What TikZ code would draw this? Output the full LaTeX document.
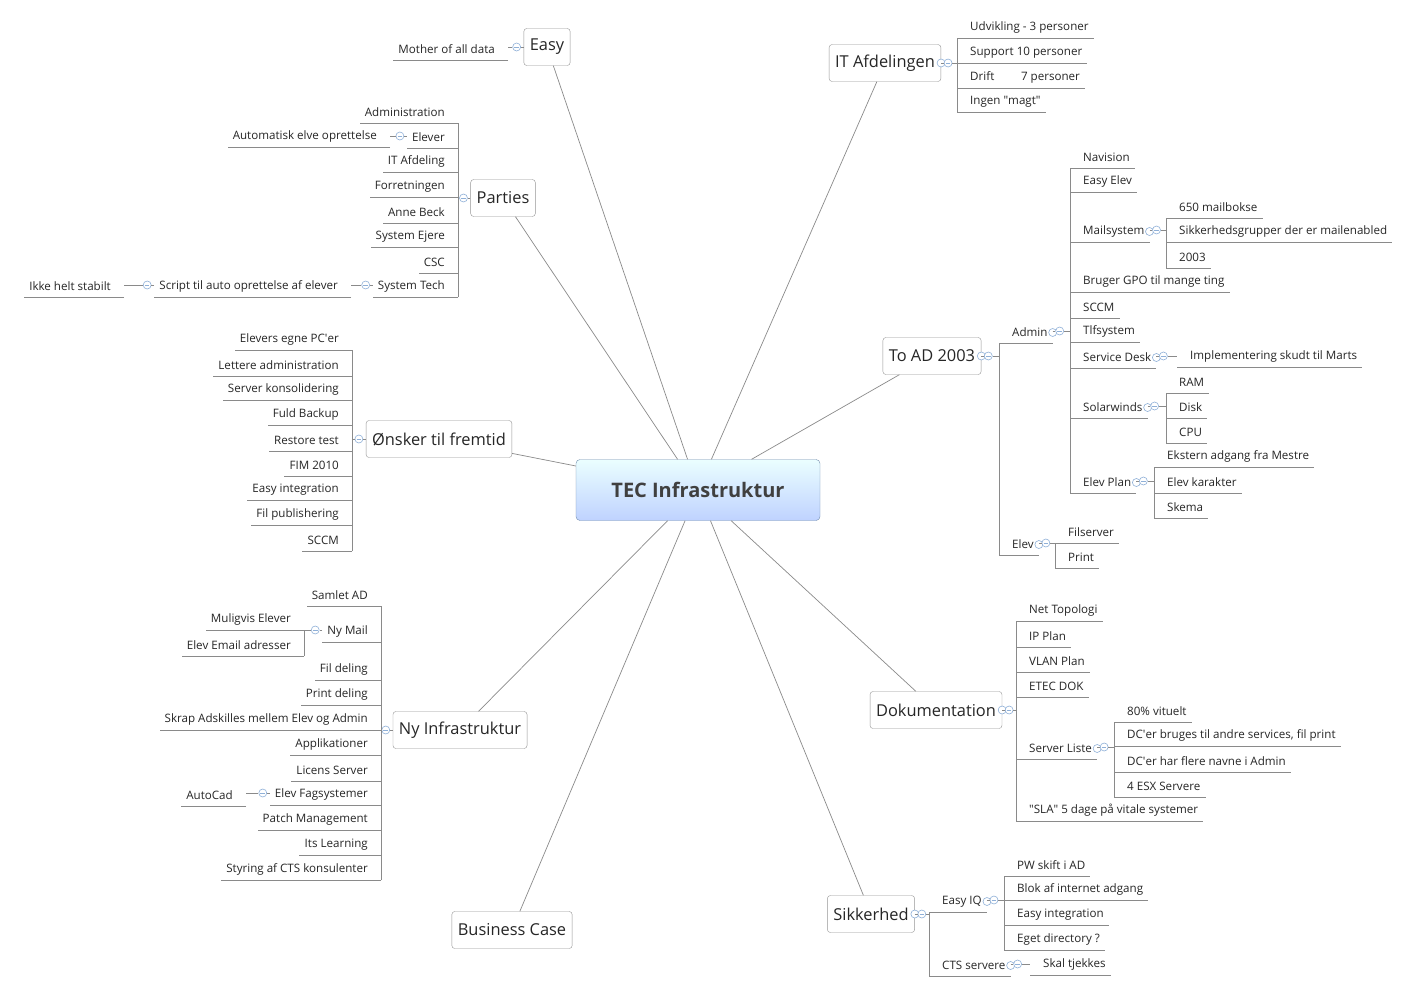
\documentclass[tikz,border=0pt]{standalone}
\usepackage{fontspec}
\setmainfont{Open Sans}
\newfontfamily\rawf{Open Sans}
\begin{document}
\begin{tikzpicture}[x=1pt,y=-1pt]
\definecolor{lc}{HTML}{8A8A8A}
\definecolor{cc}{HTML}{8FB0D8}
\tikzset{
 ln/.style={draw=lc,line width=0.7pt},
 lf/.style={font=\fontsize{11.6}{13}\selectfont,text=black!85,minimum height=24,inner xsep=5,inner ysep=0},
 topic/.style={draw=lc!90,fill=white,rounded corners=3,font=\fontsize{16.4}{19}\selectfont,text=black!85,minimum height=37,inner xsep=6},
 cir/.style={circle,draw=cc,fill=white,minimum size=8,inner sep=0,line width=0.6pt}
}
\newcommand\qq{{\rawf"}}
\newcommand\ap{{\rawf'}}
\newcommand\RL[4]{\node[lf,anchor=west] (#1) at (#2+8,#3+1.5) {#4};\draw[ln] (#2,#3+12) -- (#1.south east |- #2,#3+12);}
\newcommand\LL[4]{\node[lf,anchor=east] (#1) at (#2-8,#3+1.5) {#4};\draw[ln] (#2,#3+12) -- (#1.south west |- #2,#3+12);}
\newcommand\SR[3]{\node[cir] (#1c) at (#1.east -| {#1.east}) {};\path (#1c) ++(7,0) coordinate (#1cc);\node[cir] (#1c) at ([xshift=7pt]#1.east |- #2,#3) {};\draw[cc,line width=0.8pt] ([xshift=-2.3pt]#1c.center)--([xshift=2.3pt]#1c.center);\draw[ln] (#1.east |- #1c) -- (#1c.west);\draw[ln] (#1c.east) -- (#2,#3);}
\newcommand\SL[3]{\node[cir] (#1c) at ([xshift=-7pt]#1.west |- #2,#3) {};\draw[cc,line width=0.8pt] ([xshift=-2.3pt]#1c.center)--([xshift=2.3pt]#1c.center);\draw[ln] (#1.west |- #1c) -- (#1c.east);\draw[ln] (#1c.west) -- (#2,#3);}
\newcommand\BR[3]{\draw[ln] (#1,#2+12) -- (#1,#3+12);}
\useasboundingbox[fill=white] (0,0) rectangle (1427,991);

% central
\node[draw=cc!80!black,rounded corners=4,top color=blue!3!cyan!8,bottom color=cyan!30!blue!25,minimum width=244,minimum height=61,font=\fontsize{20}{24}\selectfont\bfseries,text=black!75] (tec) at (698,490) {TEC Infrastruktur};

% main topics
\node[topic] (easy) at (547,47) {Easy};
\node[topic] (parties) at (503,198) {Parties};
\node[topic] (onsker) at (439,439) {Ønsker til fremtid};
\node[topic] (nyinf) at (460,730) {Ny Infrastruktur};
\node[topic] (bcase) at (512,930) {Business Case};
\node[topic] (itaf) at (885,63) {IT Afdelingen};
\node[topic] (toad) at (932,356) {To AD 2003};
\node[topic] (dok) at (936,710) {Dokumentation};
\node[topic] (sik) at (871,914) {Sikkerhed};
\foreach \t in {easy,parties,onsker,nyinf,bcase,itaf,toad,dok,sik} \draw[ln] (tec) -- (\t);

% Easy
\SL{easy}{508}{47}
\LL{mother}{508}{48}{Mother of all data}

% IT Afdelingen
\SR{itaf}{957}{63}
\RL{it1}{957}{26}{Udvikling - 3 personer}
\RL{it2}{957}{51}{Support 10 personer}
\RL{it3}{957}{76}{Drift\hspace{2.3em}7 personer}
\RL{it4}{957}{100}{Ingen \qq magt\qq}
\BR{957}{26}{100}

% To AD 2003
\SR{toad}{999}{356}
\RL{admin}{999}{331}{Admin}
\RL{elev}{999}{543}{Elev}
\BR{999}{331}{543}
\SR{admin}{1070}{331}
\RL{nav}{1070}{156}{Navision}
\RL{easyelev}{1070}{180}{Easy Elev}
\RL{mail}{1070}{230}{Mailsystem}
\RL{gpo}{1070}{280}{Bruger GPO til mange ting}
\RL{sccm}{1070}{306}{SCCM}
\RL{tlf}{1070}{330}{Tlfsystem}
\RL{sdesk}{1070}{356}{Service Desk}
\RL{solar}{1070}{406}{Solarwinds}
\RL{eplan}{1070}{481}{Elev Plan}
\BR{1070}{156}{481}
\SR{mail}{1166}{230}
\RL{m1}{1166}{206}{650 mailbokse}
\RL{m2}{1166}{230}{Sikkerhedsgrupper der er mailenabled}
\RL{m3}{1166}{256}{2003}
\BR{1166}{206}{256}
\SR{sdesk}{1177}{356}
\RL{impl}{1177}{355}{Implementering skudt til Marts}
\SR{solar}{1166}{406}
\RL{s1}{1166}{381}{RAM}
\RL{s2}{1166}{406}{Disk}
\RL{s3}{1166}{431}{CPU}
\BR{1166}{381}{431}
\SR{eplan}{1154}{481}
\RL{e1}{1154}{455}{Ekstern adgang fra Mestre}
\RL{e2}{1154}{481}{Elev karakter}
\RL{e3}{1154}{506}{Skema}
\BR{1154}{455}{506}
\SR{elev}{1055}{543}
\RL{f1}{1055}{531}{Filserver}
\RL{f2}{1055}{556}{Print}
\BR{1055}{531}{556}

% Dokumentation
\SR{dok}{1016}{710}
\RL{d1}{1016}{609}{Net Topologi}
\RL{d2}{1016}{635}{IP Plan}
\RL{d3}{1016}{660}{VLAN Plan}
\RL{d4}{1016}{685}{ETEC DOK}
\RL{srvl}{1016}{747}{Server Liste}
\RL{d6}{1016}{809}{\qq SLA\qq{} 5 dage på vitale systemer}
\BR{1016}{609}{809}
\SR{srvl}{1114}{747}
\RL{v1}{1114}{710}{80\% vituelt}
\RL{v2}{1114}{734}{DC\ap er bruges til andre services, fil print}
\RL{v3}{1114}{760}{DC\ap er har flere navne i Admin}
\RL{v4}{1114}{785}{4 ESX Servere}
\BR{1114}{710}{785}

% Sikkerhed
\SR{sik}{929}{914}
\RL{eiq}{929}{900}{Easy IQ}
\RL{cts}{929}{964}{CTS servere}
\BR{929}{900}{964}
\SR{eiq}{1004}{900}
\RL{q1}{1004}{864}{PW skift i AD}
\RL{q2}{1004}{888}{Blok af internet adgang}
\RL{q3}{1004}{913}{Easy integration}
\RL{q4}{1004}{938}{Eget directory ?}
\BR{1004}{864}{938}
\SR{cts}{1030}{964}
\RL{skal}{1030}{963}{Skal tjekkes}

% Parties
\SL{parties}{458}{198}
\LL{p1}{458}{111}{Administration}
\LL{pel}{458}{136}{Elever}
\LL{p3}{458}{160}{IT Afdeling}
\LL{p4}{458}{185}{Forretningen}
\LL{p5}{458}{211}{Anne Beck}
\LL{p6}{458}{235}{System Ejere}
\LL{p7}{458}{261}{CSC}
\LL{pst}{458}{285}{System Tech}
\BR{458}{111}{285}
\SL{pel}{390}{136}
\LL{auto}{390}{135}{Automatisk elve oprettelse}
\SL{pst}{351}{285}
\LL{script}{351}{285}{Script til auto oprettelse af elever}
\SL{script}{124}{285}
\LL{ikke}{124}{285}{Ikke helt stabilt}

% Onsker
\SL{onsker}{352}{439}
\LL{o1}{352}{338}{Elevers egne PC\ap er}
\LL{o2}{352}{364}{Lettere administration}
\LL{o3}{352}{388}{Server konsolidering}
\LL{o4}{352}{413}{Fuld Backup}
\LL{o5}{352}{439}{Restore test}
\LL{o6}{352}{464}{FIM 2010}
\LL{o7}{352}{488}{Easy integration}
\LL{o8}{352}{513}{Fil publishering}
\LL{o9}{352}{539}{SCCM}
\BR{352}{338}{539}

% Ny Infrastruktur
\SL{nyinf}{381}{730}
\LL{n1}{381}{594}{Samlet AD}
\LL{nymail}{381}{630}{Ny Mail}
\LL{n3}{381}{668}{Fil deling}
\LL{n4}{381}{693}{Print deling}
\LL{n5}{381}{718}{Skrap Adskilles mellem Elev og Admin}
\LL{n6}{381}{743}{Applikationer}
\LL{n7}{381}{769}{Licens Server}
\LL{fag}{381}{793}{Elev Fagsystemer}
\LL{n9}{381}{818}{Patch Management}
\LL{n10}{381}{843}{Its Learning}
\LL{n11}{381}{868}{Styring af CTS konsulenter}
\BR{381}{594}{868}
\SL{nymail}{304}{630}
\LL{nm1}{304}{618}{Muligvis Elever}
\LL{nm2}{304}{644}{Elev Email adresser}
\BR{304}{618}{644}
\SL{fag}{246}{793}
\LL{acad}{246}{794}{AutoCad}
\end{tikzpicture}
\end{document}
